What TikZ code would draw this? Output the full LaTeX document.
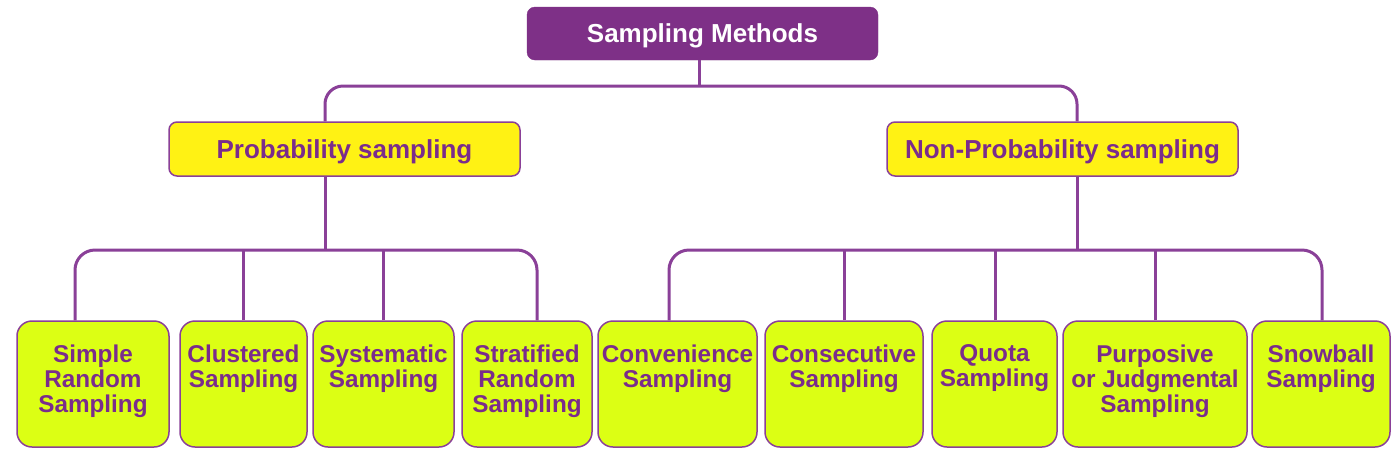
\documentclass[tikz,border=0pt]{standalone}
\usepackage{fontspec}
\setmainfont{Liberation Sans}
\usetikzlibrary{calc}
\definecolor{mpurple}{RGB}{126,48,135}
\definecolor{lpurple}{RGB}{138,64,152}
\definecolor{tpurple}{RGB}{122,44,140}
\definecolor{yfill}{RGB}{255,242,20}
\definecolor{gfill}{RGB}{220,255,20}
\begin{document}
\begin{tikzpicture}[x=1pt,y=-1pt,
 topbox/.style={draw=mpurple, fill=mpurple, rounded corners=8pt, minimum width=351pt, minimum height=53pt, text=white, font=\fontsize{26}{28}\selectfont\bfseries, inner sep=0pt, text depth=0pt},
 midbox/.style={draw=lpurple, line width=1.5pt, fill=yfill, rounded corners=8pt, minimum width=351pt, minimum height=54pt, text=tpurple, font=\fontsize{26}{28}\selectfont\bfseries, inner sep=0pt, text depth=0pt},
 leaf/.style={draw=lpurple, line width=1.5pt, fill=gfill, rounded corners=15pt, minimum height=126pt, inner sep=0pt},
 leaftext/.style={text=tpurple, font=\fontsize{24.3}{25}\selectfont\bfseries, align=center, inner sep=0pt, anchor=north},
 conn/.style={draw=lpurple, line width=3pt}]
\fill[white] (0,0) rectangle (1400,459);
\path[use as bounding box] (0,0) rectangle (1400,459);

\node[topbox] (top) at (702.5,33.5) {Sampling Methods};
\node[midbox] (prob) at (344.5,149) {Probability sampling};
\node[midbox] (nonprob) at (1062.5,149) {Non-Probability sampling};

\node[leaf, minimum width=152pt] (c1) at (93,384) {};
\node[leaf, minimum width=127pt] (c2) at (243.5,384) {};
\node[leaf, minimum width=141pt] (c3) at (383.5,384) {};
\node[leaf, minimum width=130pt] (c4) at (527,384) {};
\node[leaf, minimum width=159pt] (c5) at (677.5,384) {};
\node[leaf, minimum width=158pt] (c6) at (844,384) {};
\node[leaf, minimum width=125pt] (c7) at (994.5,384) {};
\node[leaf, minimum width=184pt] (c8) at (1155,384) {};
\node[leaf, minimum width=138pt] (c9) at (1321,384) {};

\node[leaftext] (t1) at ([yshift=-24pt]c1.north) {Simple\\Random\\Sampling};
\node[leaftext] (t2) at ([yshift=-24pt]c2.north) {Clustered\\Sampling};
\node[leaftext] (t3) at ([yshift=-24pt]c3.north) {Systematic\\Sampling};
\node[leaftext] (t4) at ([yshift=-24pt]c4.north) {Stratified\\Random\\Sampling};
\node[leaftext] (t5) at ([yshift=-24pt]c5.north) {Convenience\\Sampling};
\node[leaftext] (t6) at ([yshift=-24pt]c6.north) {Consecutive\\Sampling};
\node[leaftext] (t7) at ([yshift=-24pt]c7.north) {Quota\\Sampling};
\node[leaftext] (t8) at ([yshift=-24pt]c8.north) {Purposive\\or Judgmental\\Sampling};
\node[leaftext] (t9) at ([yshift=-24pt]c9.north) {Snowball\\Sampling};

\coordinate (h1) at (699,86);
\coordinate (h2) at (325,250);
\coordinate (h3) at (1077,250);

\draw[conn] (top.south -| h1) -- (h1);
\draw[conn, rounded corners=18pt] ([xshift=-19.5pt]prob.north) |- (h1) -| ([xshift=14.5pt]nonprob.north);

\draw[conn] ([xshift=-19.5pt]prob.south) -- (h2);
\draw[conn, rounded corners=20pt] ([xshift=-18pt]c1.north) |- (h2) -| ([xshift=10pt]c4.north);
\draw[conn] ([xshift=-0.5pt]c2.north) -- ([xshift=-0.5pt]c2.north |- h2);
\draw[conn] ([xshift=-0.5pt]c3.north) -- ([xshift=-0.5pt]c3.north |- h2);

\draw[conn] ([xshift=14.5pt]nonprob.south) -- (h3);
\draw[conn, rounded corners=20pt] ([xshift=-8.5pt]c5.north) |- (h3) -| ([xshift=1pt]c9.north);
\draw[conn] (c6.north) -- (c6.north |- h3);
\draw[conn] ([xshift=0.5pt]c7.north) -- ([xshift=0.5pt]c7.north |- h3);
\draw[conn] (c8.north) -- (c8.north |- h3);
\end{tikzpicture}
\end{document}
